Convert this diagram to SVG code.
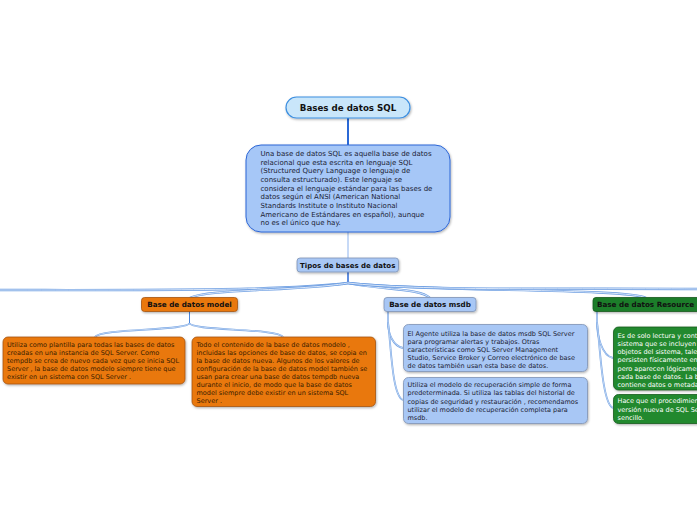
<svg xmlns="http://www.w3.org/2000/svg" width="697" height="520" viewBox="0 0 697 520">
<defs>
<filter id="sh" x="-10%" y="-20%" width="130%" height="150%"><feDropShadow dx="0.8" dy="1.2" stdDeviation="0.8" flood-color="#000" flood-opacity="0.3"/></filter>
</defs>
<style>
text{font-family:"DejaVu Sans",Verdana,sans-serif;}
.lbl{font-size:7.2px;font-weight:bold;fill:#111;}
.body{font-size:6.5px;fill:#1b2233;}
.main{font-size:7px;fill:#1b2233;}
.otext{font-size:6.5px;fill:#3a2000;}
.gtext{font-size:6.5px;fill:#ffffff;}
.bo{fill:none;stroke:#6d9ee2;stroke-width:2.3;}
.bi{fill:none;stroke:#f4f8fe;stroke-width:0.8;}
.co{fill:none;stroke:#6d9ee2;stroke-width:1.8;}
.ci{fill:none;stroke:#f4f8fe;stroke-width:0.6;}
.trunk{fill:none;stroke:#2b69d6;}
.blue{fill:#a8c7f5;stroke:#7f93b4;stroke-width:0.8;}
.orange{fill:#e9780f;stroke:#a45411;stroke-width:0.8;}
.green{fill:#1f7d2c;stroke:#135a1c;stroke-width:0.8;}
.green2{fill:#21892f;stroke:#135a1c;stroke-width:0.8;}
</style>
<rect width="697" height="520" fill="#ffffff"/>

<g id="connectors">
<line class="trunk" x1="348" y1="118" x2="348" y2="145" stroke-width="2"/>
<line x1="348" y1="232" x2="348" y2="258" stroke="#8fb4ee" stroke-width="1"/>
<line class="trunk" x1="348" y1="272" x2="348" y2="283.5" stroke-width="1.5"/>
<path class="bo" d="M348,283 C280,291 150,290 0,290"/>
<path class="bi" d="M348,283 C280,291 150,290 0,290"/>
<path class="bo" d="M348,283 C300,291 205,289 190,298"/>
<path class="bi" d="M348,283 C300,291 205,289 190,298"/>
<path class="bo" d="M348,283 C380,290 420,288 430,298"/>
<path class="bi" d="M348,283 C380,290 420,288 430,298"/>
<path class="bo" d="M348,283 C420,292 630,288 646,298"/>
<path class="bi" d="M348,283 C420,292 630,288 646,298"/>
<path class="bo" d="M348,283 C420,291 560,288 697,289"/>
<path class="bi" d="M348,283 C420,291 560,288 697,289"/>
<line x1="189.5" y1="311" x2="189.5" y2="323" stroke="#4b86dc" stroke-width="1"/>
<path class="co" d="M189.5,323 C189,331 100,328 95,337"/>
<path class="ci" d="M189.5,323 C189,331 100,328 95,337"/>
<path class="co" d="M189.5,323 C190,331 278,328 283,337"/>
<path class="ci" d="M189.5,323 C190,331 278,328 283,337"/>
<line x1="388" y1="311" x2="388" y2="322" stroke="#4b86dc" stroke-width="1"/>
<path class="co" d="M388,322 C388,334 393,346 403,348"/>
<path class="ci" d="M388,322 C388,334 393,346 403,348"/>
<path class="co" d="M388,322 C391,345 392,396 403,400"/>
<path class="ci" d="M388,322 C391,345 392,396 403,400"/>
<line x1="597" y1="311" x2="597" y2="322" stroke="#4b86dc" stroke-width="1"/>
<path class="co" d="M597,322 C597,336 602,356 613,358"/>
<path class="ci" d="M597,322 C597,336 602,356 613,358"/>
<path class="co" d="M597,322 C600,345 602,404 613,408"/>
<path class="ci" d="M597,322 C600,345 602,404 613,408"/>
</g>

<g id="title">
<rect x="286" y="97" width="124" height="21" rx="10.5" fill="#c9e6fa" stroke="#3d8fe0" stroke-width="1.2" filter="url(#sh)"/>
<text x="348" y="111.3" text-anchor="middle" style="font-size:8.7px;font-weight:bold;fill:#111">Bases de datos SQL</text>
</g>

<g id="definition">
<rect x="246" y="145" width="204" height="87" rx="15" fill="#a6c7f7" stroke="#2d66d6" stroke-width="1" filter="url(#sh)"/>
<text class="main" x="260.5" y="155.8">Una base de datos SQL es aquella base de datos</text>
<text class="main" x="260.5" y="164.5">relacional que esta escrita en lenguaje SQL</text>
<text class="main" x="260.5" y="173.2">(Structured Query Language o lenguaje de</text>
<text class="main" x="260.5" y="181.9">consulta estructurado). Este lenguaje se</text>
<text class="main" x="260.5" y="190.6">considera el lenguaje estándar para las bases de</text>
<text class="main" x="260.5" y="199.3">datos según el ANSI (American National</text>
<text class="main" x="260.5" y="208">Standards Institute o Instituto Nacional</text>
<text class="main" x="260.5" y="216.7">Americano de Estándares en español), aunque</text>
<text class="main" x="260.5" y="225.4">no es el único que hay.</text>
</g>

<g id="tipos">
<rect class="blue" x="297" y="258" width="101.5" height="14" rx="3" filter="url(#sh)"/>
<text class="lbl" x="347.7" y="267.6" text-anchor="middle" style="font-size:7px">Tipos de bases de datos</text>
</g>

<g id="model">
<rect class="orange" x="141.5" y="297.5" width="96" height="14" rx="3" filter="url(#sh)"/>
<text class="lbl" x="189.5" y="307.3" text-anchor="middle">Base de datos model</text>
</g>

<g id="model-1">
<rect class="orange" x="3" y="337" width="182" height="47" rx="5" filter="url(#sh)"/>
<text class="otext" x="7" y="347.2">Utiliza como plantilla para todas las bases de datos</text>
<text class="otext" x="7" y="355.1">creadas en una instancia de SQL Server. Como</text>
<text class="otext" x="7" y="363">tempdb se crea de nuevo cada vez que se inicia SQL</text>
<text class="otext" x="7" y="370.9">Server , la base de datos modelo siempre tiene que</text>
<text class="otext" x="7" y="378.8">existir en un sistema con SQL Server .</text>
</g>

<g id="model-2">
<rect class="orange" x="192" y="337" width="183.5" height="69.5" rx="5" filter="url(#sh)"/>
<text class="otext" x="196.5" y="347.3">Todo el contenido de la base de datos modelo ,</text>
<text class="otext" x="196.5" y="355.3">incluidas las opciones de base de datos, se copia en</text>
<text class="otext" x="196.5" y="363.3">la base de datos nueva. Algunos de los valores de</text>
<text class="otext" x="196.5" y="371.3">configuración de la base de datos model también se</text>
<text class="otext" x="196.5" y="379.3">usan para crear una base de datos tempdb nueva</text>
<text class="otext" x="196.5" y="387.3">durante el inicio, de modo que la base de datos</text>
<text class="otext" x="196.5" y="395.3">model siempre debe existir en un sistema SQL</text>
<text class="otext" x="196.5" y="403.3">Server .</text>
</g>

<g id="msdb">
<rect class="blue" x="384" y="297.5" width="92" height="14" rx="3" filter="url(#sh)"/>
<text class="lbl" x="430" y="307.3" text-anchor="middle">Base de datos msdb</text>
</g>

<g id="msdb-1">
<rect class="blue" x="403.5" y="324.5" width="184" height="47" rx="5" stroke="#6a86b5" filter="url(#sh)"/>
<text class="body" x="407.5" y="335.5">El Agente utiliza la base de datos msdb SQL Server</text>
<text class="body" x="407.5" y="343.7">para programar alertas y trabajos. Otras</text>
<text class="body" x="407.5" y="351.9">características como SQL Server Management</text>
<text class="body" x="407.5" y="360.1">Studio, Service Broker y Correo electrónico de base</text>
<text class="body" x="407.5" y="368.3">de datos también usan esta base de datos.</text>
</g>

<g id="msdb-2">
<rect class="blue" x="403.5" y="377.5" width="184" height="46" rx="5" stroke="#6a86b5" filter="url(#sh)"/>
<text class="body" x="407.5" y="387">Utiliza el modelo de recuperación simple de forma</text>
<text class="body" x="407.5" y="395.3">predeterminada. Si utiliza las tablas del historial de</text>
<text class="body" x="407.5" y="403.6">copias de seguridad y restauración , recomendamos</text>
<text class="body" x="407.5" y="411.9">utilizar el modelo de recuperación completa para</text>
<text class="body" x="407.5" y="420.2">msdb.</text>
</g>

<g id="resource">
<rect class="green" x="593" y="297.5" width="120" height="14" rx="3" filter="url(#sh)"/>
<text class="lbl" x="597" y="307.3">Base de datos Resource</text>
</g>

<g id="resource-1">
<rect class="green2" x="613.5" y="327" width="100" height="63" rx="5" filter="url(#sh)"/>
<text class="gtext" x="617.5" y="337.5">Es de solo lectura y cont</text>
<text class="gtext" x="617.5" y="345.8">sistema que se incluyen</text>
<text class="gtext" x="617.5" y="354.1">objetos del sistema, tale</text>
<text class="gtext" x="617.5" y="362.4">persisten físicamente en</text>
<text class="gtext" x="617.5" y="370.7">pero aparecen lógicamen</text>
<text class="gtext" x="617.5" y="379">cada base de datos. La b</text>
<text class="gtext" x="617.5" y="387.3">contiene datos o metada</text>
</g>

<g id="resource-2">
<rect class="green2" x="613.5" y="394.5" width="100" height="29" rx="5" filter="url(#sh)"/>
<text class="gtext" x="617.5" y="403.3">Hace que el procedimien</text>
<text class="gtext" x="617.5" y="411.6">versión nueva de SQL Se</text>
<text class="gtext" x="617.5" y="419.9">sencillo.</text>
</g>
</svg>
